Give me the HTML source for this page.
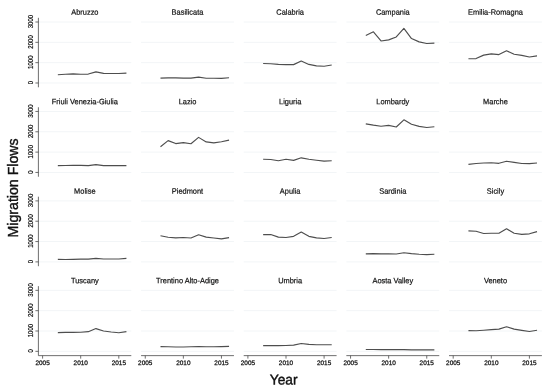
<!DOCTYPE html>
<html><head><meta charset="utf-8"><title>Migration Flows</title>
<style>html,body{margin:0;padding:0;background:#fff}svg{display:block;filter:blur(0.35px)}</style></head>
<body>
<svg width="550" height="391" viewBox="0 0 550 391" font-family="'Liberation Sans', Arial, sans-serif" fill="#111">
<rect width="550" height="391" fill="#fff"/>
<line x1="38.40" y1="82.99" x2="131.30" y2="82.99" stroke="#f2f5f7" stroke-width="1"/>
<line x1="38.40" y1="62.66" x2="131.30" y2="62.66" stroke="#f2f5f7" stroke-width="1"/>
<line x1="38.40" y1="42.33" x2="131.30" y2="42.33" stroke="#f2f5f7" stroke-width="1"/>
<line x1="38.40" y1="22.00" x2="131.30" y2="22.00" stroke="#f2f5f7" stroke-width="1"/>
<text transform="translate(84.85 14.85) rotate(0.05) scale(0.95 1)" font-size="7.83" text-anchor="middle" stroke="#111" stroke-width="0.2">Abruzzo</text>
<polyline points="57.84,74.80 65.46,74.25 73.08,73.88 80.70,74.25 88.32,74.07 95.94,71.89 103.56,73.35 111.18,73.54 118.80,73.54 126.42,73.17" fill="none" stroke="#4e4e4e" stroke-width="1.15" stroke-linejoin="round"/>
<line x1="38.40" y1="17.80" x2="38.40" y2="87.29" stroke="#4a4a4a" stroke-width="0.8"/>
<line x1="35.40" y1="82.99" x2="38.40" y2="82.99" stroke="#4a4a4a" stroke-width="0.8"/>
<text transform="translate(33.0 82.54) rotate(-90) scale(0.95 1)" font-size="6.4" text-anchor="middle" stroke="#111" stroke-width="0.2">0</text>
<line x1="35.40" y1="62.66" x2="38.40" y2="62.66" stroke="#4a4a4a" stroke-width="0.8"/>
<text transform="translate(33.0 62.21) rotate(-90) scale(0.95 1)" font-size="6.4" text-anchor="middle" stroke="#111" stroke-width="0.2">1000</text>
<line x1="35.40" y1="42.33" x2="38.40" y2="42.33" stroke="#4a4a4a" stroke-width="0.8"/>
<text transform="translate(33.0 41.88) rotate(-90) scale(0.95 1)" font-size="6.4" text-anchor="middle" stroke="#111" stroke-width="0.2">2000</text>
<line x1="35.40" y1="22.00" x2="38.40" y2="22.00" stroke="#4a4a4a" stroke-width="0.8"/>
<text transform="translate(33.0 21.55) rotate(-90) scale(0.95 1)" font-size="6.4" text-anchor="middle" stroke="#111" stroke-width="0.2">3000</text>
<line x1="141.05" y1="82.99" x2="233.95" y2="82.99" stroke="#f2f5f7" stroke-width="1"/>
<line x1="141.05" y1="62.66" x2="233.95" y2="62.66" stroke="#f2f5f7" stroke-width="1"/>
<line x1="141.05" y1="42.33" x2="233.95" y2="42.33" stroke="#f2f5f7" stroke-width="1"/>
<line x1="141.05" y1="22.00" x2="233.95" y2="22.00" stroke="#f2f5f7" stroke-width="1"/>
<text transform="translate(187.50 14.85) rotate(0.05) scale(0.95 1)" font-size="7.83" text-anchor="middle" stroke="#111" stroke-width="0.2">Basilicata</text>
<polyline points="160.49,78.07 168.11,77.89 175.73,77.89 183.35,78.07 190.97,78.07 198.59,77.18 206.21,78.25 213.83,78.25 221.45,78.44 229.07,77.70" fill="none" stroke="#4e4e4e" stroke-width="1.15" stroke-linejoin="round"/>
<line x1="243.70" y1="82.99" x2="336.60" y2="82.99" stroke="#f2f5f7" stroke-width="1"/>
<line x1="243.70" y1="62.66" x2="336.60" y2="62.66" stroke="#f2f5f7" stroke-width="1"/>
<line x1="243.70" y1="42.33" x2="336.60" y2="42.33" stroke="#f2f5f7" stroke-width="1"/>
<line x1="243.70" y1="22.00" x2="336.60" y2="22.00" stroke="#f2f5f7" stroke-width="1"/>
<text transform="translate(290.15 14.85) rotate(0.05) scale(0.95 1)" font-size="7.83" text-anchor="middle" stroke="#111" stroke-width="0.2">Calabria</text>
<polyline points="263.14,63.51 270.76,63.70 278.38,64.43 286.00,64.61 293.62,64.61 301.24,60.97 308.86,64.43 316.48,65.87 324.10,66.24 331.72,64.98" fill="none" stroke="#4e4e4e" stroke-width="1.15" stroke-linejoin="round"/>
<line x1="346.35" y1="82.99" x2="439.25" y2="82.99" stroke="#f2f5f7" stroke-width="1"/>
<line x1="346.35" y1="62.66" x2="439.25" y2="62.66" stroke="#f2f5f7" stroke-width="1"/>
<line x1="346.35" y1="42.33" x2="439.25" y2="42.33" stroke="#f2f5f7" stroke-width="1"/>
<line x1="346.35" y1="22.00" x2="439.25" y2="22.00" stroke="#f2f5f7" stroke-width="1"/>
<text transform="translate(392.80 14.85) rotate(0.05) scale(0.95 1)" font-size="7.83" text-anchor="middle" stroke="#111" stroke-width="0.2">Campania</text>
<polyline points="365.79,35.48 373.41,31.84 381.03,40.95 388.65,39.85 396.27,36.94 403.89,28.38 411.51,38.59 419.13,41.86 426.75,43.49 434.37,43.12" fill="none" stroke="#4e4e4e" stroke-width="1.15" stroke-linejoin="round"/>
<line x1="449.00" y1="82.99" x2="541.90" y2="82.99" stroke="#f2f5f7" stroke-width="1"/>
<line x1="449.00" y1="62.66" x2="541.90" y2="62.66" stroke="#f2f5f7" stroke-width="1"/>
<line x1="449.00" y1="42.33" x2="541.90" y2="42.33" stroke="#f2f5f7" stroke-width="1"/>
<line x1="449.00" y1="22.00" x2="541.90" y2="22.00" stroke="#f2f5f7" stroke-width="1"/>
<text transform="translate(495.45 14.85) rotate(0.05) scale(0.95 1)" font-size="7.83" text-anchor="middle" stroke="#111" stroke-width="0.2">Emilia-Romagna</text>
<polyline points="468.44,58.78 476.06,58.59 483.68,55.14 491.30,53.88 498.92,54.59 506.54,50.77 514.16,54.24 521.78,55.32 529.40,56.97 537.02,55.87" fill="none" stroke="#4e4e4e" stroke-width="1.15" stroke-linejoin="round"/>
<line x1="38.40" y1="172.44" x2="131.30" y2="172.44" stroke="#f2f5f7" stroke-width="1"/>
<line x1="38.40" y1="152.11" x2="131.30" y2="152.11" stroke="#f2f5f7" stroke-width="1"/>
<line x1="38.40" y1="131.78" x2="131.30" y2="131.78" stroke="#f2f5f7" stroke-width="1"/>
<line x1="38.40" y1="111.45" x2="131.30" y2="111.45" stroke="#f2f5f7" stroke-width="1"/>
<text transform="translate(84.85 104.30) rotate(0.05) scale(0.95 1)" font-size="7.83" text-anchor="middle" stroke="#111" stroke-width="0.2">Friuli Venezia-Giulia</text>
<polyline points="57.84,165.69 65.46,165.51 73.08,165.32 80.70,165.32 88.32,165.69 95.94,164.59 103.56,165.69 111.18,165.51 118.80,165.69 126.42,165.69" fill="none" stroke="#4e4e4e" stroke-width="1.15" stroke-linejoin="round"/>
<line x1="38.40" y1="107.25" x2="38.40" y2="176.74" stroke="#4a4a4a" stroke-width="0.8"/>
<line x1="35.40" y1="172.44" x2="38.40" y2="172.44" stroke="#4a4a4a" stroke-width="0.8"/>
<text transform="translate(33.0 171.99) rotate(-90) scale(0.95 1)" font-size="6.4" text-anchor="middle" stroke="#111" stroke-width="0.2">0</text>
<line x1="35.40" y1="152.11" x2="38.40" y2="152.11" stroke="#4a4a4a" stroke-width="0.8"/>
<text transform="translate(33.0 151.66) rotate(-90) scale(0.95 1)" font-size="6.4" text-anchor="middle" stroke="#111" stroke-width="0.2">1000</text>
<line x1="35.40" y1="131.78" x2="38.40" y2="131.78" stroke="#4a4a4a" stroke-width="0.8"/>
<text transform="translate(33.0 131.33) rotate(-90) scale(0.95 1)" font-size="6.4" text-anchor="middle" stroke="#111" stroke-width="0.2">2000</text>
<line x1="35.40" y1="111.45" x2="38.40" y2="111.45" stroke="#4a4a4a" stroke-width="0.8"/>
<text transform="translate(33.0 111.00) rotate(-90) scale(0.95 1)" font-size="6.4" text-anchor="middle" stroke="#111" stroke-width="0.2">3000</text>
<line x1="141.05" y1="172.44" x2="233.95" y2="172.44" stroke="#f2f5f7" stroke-width="1"/>
<line x1="141.05" y1="152.11" x2="233.95" y2="152.11" stroke="#f2f5f7" stroke-width="1"/>
<line x1="141.05" y1="131.78" x2="233.95" y2="131.78" stroke="#f2f5f7" stroke-width="1"/>
<line x1="141.05" y1="111.45" x2="233.95" y2="111.45" stroke="#f2f5f7" stroke-width="1"/>
<text transform="translate(187.50 104.30) rotate(0.05) scale(0.95 1)" font-size="7.83" text-anchor="middle" stroke="#111" stroke-width="0.2">Lazio</text>
<polyline points="160.49,146.68 168.11,140.66 175.73,143.57 183.35,142.66 190.97,143.75 198.59,137.37 206.21,141.94 213.83,142.84 221.45,141.76 229.07,140.12" fill="none" stroke="#4e4e4e" stroke-width="1.15" stroke-linejoin="round"/>
<line x1="243.70" y1="172.44" x2="336.60" y2="172.44" stroke="#f2f5f7" stroke-width="1"/>
<line x1="243.70" y1="152.11" x2="336.60" y2="152.11" stroke="#f2f5f7" stroke-width="1"/>
<line x1="243.70" y1="131.78" x2="336.60" y2="131.78" stroke="#f2f5f7" stroke-width="1"/>
<line x1="243.70" y1="111.45" x2="336.60" y2="111.45" stroke="#f2f5f7" stroke-width="1"/>
<text transform="translate(290.15 104.30) rotate(0.05) scale(0.95 1)" font-size="7.83" text-anchor="middle" stroke="#111" stroke-width="0.2">Liguria</text>
<polyline points="263.14,159.29 270.76,159.47 278.38,160.75 286.00,159.29 293.62,160.38 301.24,157.82 308.86,159.29 316.48,160.20 324.10,161.12 331.72,160.75" fill="none" stroke="#4e4e4e" stroke-width="1.15" stroke-linejoin="round"/>
<line x1="346.35" y1="172.44" x2="439.25" y2="172.44" stroke="#f2f5f7" stroke-width="1"/>
<line x1="346.35" y1="152.11" x2="439.25" y2="152.11" stroke="#f2f5f7" stroke-width="1"/>
<line x1="346.35" y1="131.78" x2="439.25" y2="131.78" stroke="#f2f5f7" stroke-width="1"/>
<line x1="346.35" y1="111.45" x2="439.25" y2="111.45" stroke="#f2f5f7" stroke-width="1"/>
<text transform="translate(392.80 104.30) rotate(0.05) scale(0.95 1)" font-size="7.83" text-anchor="middle" stroke="#111" stroke-width="0.2">Lombardy</text>
<polyline points="365.79,123.85 373.41,125.13 381.03,126.23 388.65,125.32 396.27,126.96 403.89,119.83 411.51,124.22 419.13,126.41 426.75,127.51 434.37,126.78" fill="none" stroke="#4e4e4e" stroke-width="1.15" stroke-linejoin="round"/>
<line x1="449.00" y1="172.44" x2="541.90" y2="172.44" stroke="#f2f5f7" stroke-width="1"/>
<line x1="449.00" y1="152.11" x2="541.90" y2="152.11" stroke="#f2f5f7" stroke-width="1"/>
<line x1="449.00" y1="131.78" x2="541.90" y2="131.78" stroke="#f2f5f7" stroke-width="1"/>
<line x1="449.00" y1="111.45" x2="541.90" y2="111.45" stroke="#f2f5f7" stroke-width="1"/>
<text transform="translate(495.45 104.30) rotate(0.05) scale(0.95 1)" font-size="7.83" text-anchor="middle" stroke="#111" stroke-width="0.2">Marche</text>
<polyline points="468.44,164.41 476.06,163.49 483.68,162.95 491.30,162.76 498.92,163.31 506.54,161.30 514.16,162.40 521.78,163.49 529.40,163.68 537.02,162.95" fill="none" stroke="#4e4e4e" stroke-width="1.15" stroke-linejoin="round"/>
<line x1="38.40" y1="261.89" x2="131.30" y2="261.89" stroke="#f2f5f7" stroke-width="1"/>
<line x1="38.40" y1="241.56" x2="131.30" y2="241.56" stroke="#f2f5f7" stroke-width="1"/>
<line x1="38.40" y1="221.23" x2="131.30" y2="221.23" stroke="#f2f5f7" stroke-width="1"/>
<line x1="38.40" y1="200.90" x2="131.30" y2="200.90" stroke="#f2f5f7" stroke-width="1"/>
<text transform="translate(84.85 193.75) rotate(0.05) scale(0.95 1)" font-size="7.83" text-anchor="middle" stroke="#111" stroke-width="0.2">Molise</text>
<polyline points="57.84,259.33 65.46,259.51 73.08,259.33 80.70,259.15 88.32,259.15 95.94,258.43 103.56,258.98 111.18,258.98 118.80,258.98 126.42,258.43" fill="none" stroke="#4e4e4e" stroke-width="1.15" stroke-linejoin="round"/>
<line x1="38.40" y1="196.70" x2="38.40" y2="266.19" stroke="#4a4a4a" stroke-width="0.8"/>
<line x1="35.40" y1="261.89" x2="38.40" y2="261.89" stroke="#4a4a4a" stroke-width="0.8"/>
<text transform="translate(33.0 261.44) rotate(-90) scale(0.95 1)" font-size="6.4" text-anchor="middle" stroke="#111" stroke-width="0.2">0</text>
<line x1="35.40" y1="241.56" x2="38.40" y2="241.56" stroke="#4a4a4a" stroke-width="0.8"/>
<text transform="translate(33.0 241.11) rotate(-90) scale(0.95 1)" font-size="6.4" text-anchor="middle" stroke="#111" stroke-width="0.2">1000</text>
<line x1="35.40" y1="221.23" x2="38.40" y2="221.23" stroke="#4a4a4a" stroke-width="0.8"/>
<text transform="translate(33.0 220.78) rotate(-90) scale(0.95 1)" font-size="6.4" text-anchor="middle" stroke="#111" stroke-width="0.2">2000</text>
<line x1="35.40" y1="200.90" x2="38.40" y2="200.90" stroke="#4a4a4a" stroke-width="0.8"/>
<text transform="translate(33.0 200.45) rotate(-90) scale(0.95 1)" font-size="6.4" text-anchor="middle" stroke="#111" stroke-width="0.2">3000</text>
<line x1="141.05" y1="261.89" x2="233.95" y2="261.89" stroke="#f2f5f7" stroke-width="1"/>
<line x1="141.05" y1="241.56" x2="233.95" y2="241.56" stroke="#f2f5f7" stroke-width="1"/>
<line x1="141.05" y1="221.23" x2="233.95" y2="221.23" stroke="#f2f5f7" stroke-width="1"/>
<line x1="141.05" y1="200.90" x2="233.95" y2="200.90" stroke="#f2f5f7" stroke-width="1"/>
<text transform="translate(187.50 193.75) rotate(0.05) scale(0.95 1)" font-size="7.83" text-anchor="middle" stroke="#111" stroke-width="0.2">Piedmont</text>
<polyline points="160.49,235.81 168.11,237.27 175.73,237.82 183.35,237.45 190.97,238.00 198.59,234.73 206.21,237.09 213.83,238.00 221.45,238.92 229.07,237.64" fill="none" stroke="#4e4e4e" stroke-width="1.15" stroke-linejoin="round"/>
<line x1="243.70" y1="261.89" x2="336.60" y2="261.89" stroke="#f2f5f7" stroke-width="1"/>
<line x1="243.70" y1="241.56" x2="336.60" y2="241.56" stroke="#f2f5f7" stroke-width="1"/>
<line x1="243.70" y1="221.23" x2="336.60" y2="221.23" stroke="#f2f5f7" stroke-width="1"/>
<line x1="243.70" y1="200.90" x2="336.60" y2="200.90" stroke="#f2f5f7" stroke-width="1"/>
<text transform="translate(290.15 193.75) rotate(0.05) scale(0.95 1)" font-size="7.83" text-anchor="middle" stroke="#111" stroke-width="0.2">Apulia</text>
<polyline points="263.14,234.55 270.76,234.55 278.38,237.09 286.00,237.45 293.62,236.36 301.24,231.98 308.86,236.36 316.48,237.82 324.10,238.55 331.72,237.45" fill="none" stroke="#4e4e4e" stroke-width="1.15" stroke-linejoin="round"/>
<line x1="346.35" y1="261.89" x2="439.25" y2="261.89" stroke="#f2f5f7" stroke-width="1"/>
<line x1="346.35" y1="241.56" x2="439.25" y2="241.56" stroke="#f2f5f7" stroke-width="1"/>
<line x1="346.35" y1="221.23" x2="439.25" y2="221.23" stroke="#f2f5f7" stroke-width="1"/>
<line x1="346.35" y1="200.90" x2="439.25" y2="200.90" stroke="#f2f5f7" stroke-width="1"/>
<text transform="translate(392.80 193.75) rotate(0.05) scale(0.95 1)" font-size="7.83" text-anchor="middle" stroke="#111" stroke-width="0.2">Sardinia</text>
<polyline points="365.79,253.86 373.41,253.68 381.03,253.86 388.65,253.86 396.27,254.04 403.89,252.78 411.51,253.68 419.13,254.23 426.75,254.59 434.37,254.23" fill="none" stroke="#4e4e4e" stroke-width="1.15" stroke-linejoin="round"/>
<line x1="449.00" y1="261.89" x2="541.90" y2="261.89" stroke="#f2f5f7" stroke-width="1"/>
<line x1="449.00" y1="241.56" x2="541.90" y2="241.56" stroke="#f2f5f7" stroke-width="1"/>
<line x1="449.00" y1="221.23" x2="541.90" y2="221.23" stroke="#f2f5f7" stroke-width="1"/>
<line x1="449.00" y1="200.90" x2="541.90" y2="200.90" stroke="#f2f5f7" stroke-width="1"/>
<text transform="translate(495.45 193.75) rotate(0.05) scale(0.95 1)" font-size="7.83" text-anchor="middle" stroke="#111" stroke-width="0.2">Sicily</text>
<polyline points="468.44,230.89 476.06,231.25 483.68,233.45 491.30,233.27 498.92,233.27 506.54,228.71 514.16,233.27 521.78,234.36 529.40,233.81 537.02,231.62" fill="none" stroke="#4e4e4e" stroke-width="1.15" stroke-linejoin="round"/>
<line x1="38.40" y1="351.34" x2="131.30" y2="351.34" stroke="#f2f5f7" stroke-width="1"/>
<line x1="38.40" y1="331.01" x2="131.30" y2="331.01" stroke="#f2f5f7" stroke-width="1"/>
<line x1="38.40" y1="310.68" x2="131.30" y2="310.68" stroke="#f2f5f7" stroke-width="1"/>
<line x1="38.40" y1="290.35" x2="131.30" y2="290.35" stroke="#f2f5f7" stroke-width="1"/>
<text transform="translate(84.85 283.20) rotate(0.05) scale(0.95 1)" font-size="7.83" text-anchor="middle" stroke="#111" stroke-width="0.2">Tuscany</text>
<polyline points="57.84,332.60 65.46,332.41 73.08,332.41 80.70,332.23 88.32,331.68 95.94,328.59 103.56,330.95 111.18,332.05 118.80,332.78 126.42,331.68" fill="none" stroke="#4e4e4e" stroke-width="1.15" stroke-linejoin="round"/>
<line x1="38.40" y1="286.15" x2="38.40" y2="355.64" stroke="#4a4a4a" stroke-width="0.8"/>
<line x1="35.40" y1="351.34" x2="38.40" y2="351.34" stroke="#4a4a4a" stroke-width="0.8"/>
<text transform="translate(33.0 350.89) rotate(-90) scale(0.95 1)" font-size="6.4" text-anchor="middle" stroke="#111" stroke-width="0.2">0</text>
<line x1="35.40" y1="331.01" x2="38.40" y2="331.01" stroke="#4a4a4a" stroke-width="0.8"/>
<text transform="translate(33.0 330.56) rotate(-90) scale(0.95 1)" font-size="6.4" text-anchor="middle" stroke="#111" stroke-width="0.2">1000</text>
<line x1="35.40" y1="310.68" x2="38.40" y2="310.68" stroke="#4a4a4a" stroke-width="0.8"/>
<text transform="translate(33.0 310.23) rotate(-90) scale(0.95 1)" font-size="6.4" text-anchor="middle" stroke="#111" stroke-width="0.2">2000</text>
<line x1="35.40" y1="290.35" x2="38.40" y2="290.35" stroke="#4a4a4a" stroke-width="0.8"/>
<text transform="translate(33.0 289.90) rotate(-90) scale(0.95 1)" font-size="6.4" text-anchor="middle" stroke="#111" stroke-width="0.2">3000</text>
<line x1="38.40" y1="355.64" x2="131.30" y2="355.64" stroke="#4a4a4a" stroke-width="0.8"/>
<line x1="42.60" y1="355.64" x2="42.60" y2="358.64" stroke="#4a4a4a" stroke-width="0.8"/>
<text transform="translate(42.60 364.89) rotate(0.05) scale(0.99 1)" font-size="6.5" text-anchor="middle" stroke="#111" stroke-width="0.25">2005</text>
<line x1="80.70" y1="355.64" x2="80.70" y2="358.64" stroke="#4a4a4a" stroke-width="0.8"/>
<text transform="translate(80.70 364.89) rotate(0.05) scale(0.99 1)" font-size="6.5" text-anchor="middle" stroke="#111" stroke-width="0.25">2010</text>
<line x1="118.80" y1="355.64" x2="118.80" y2="358.64" stroke="#4a4a4a" stroke-width="0.8"/>
<text transform="translate(118.80 364.89) rotate(0.05) scale(0.99 1)" font-size="6.5" text-anchor="middle" stroke="#111" stroke-width="0.25">2015</text>
<line x1="141.05" y1="351.34" x2="233.95" y2="351.34" stroke="#f2f5f7" stroke-width="1"/>
<line x1="141.05" y1="331.01" x2="233.95" y2="331.01" stroke="#f2f5f7" stroke-width="1"/>
<line x1="141.05" y1="310.68" x2="233.95" y2="310.68" stroke="#f2f5f7" stroke-width="1"/>
<line x1="141.05" y1="290.35" x2="233.95" y2="290.35" stroke="#f2f5f7" stroke-width="1"/>
<text transform="translate(187.50 283.20) rotate(0.05) scale(0.95 1)" font-size="7.83" text-anchor="middle" stroke="#111" stroke-width="0.2">Trentino Alto-Adige</text>
<polyline points="160.49,346.60 168.11,346.79 175.73,346.97 183.35,346.97 190.97,346.79 198.59,346.60 206.21,346.79 213.83,346.79 221.45,346.60 229.07,346.42" fill="none" stroke="#4e4e4e" stroke-width="1.15" stroke-linejoin="round"/>
<line x1="141.05" y1="355.64" x2="233.95" y2="355.64" stroke="#4a4a4a" stroke-width="0.8"/>
<line x1="145.25" y1="355.64" x2="145.25" y2="358.64" stroke="#4a4a4a" stroke-width="0.8"/>
<text transform="translate(145.25 364.89) rotate(0.05) scale(0.99 1)" font-size="6.5" text-anchor="middle" stroke="#111" stroke-width="0.25">2005</text>
<line x1="183.35" y1="355.64" x2="183.35" y2="358.64" stroke="#4a4a4a" stroke-width="0.8"/>
<text transform="translate(183.35 364.89) rotate(0.05) scale(0.99 1)" font-size="6.5" text-anchor="middle" stroke="#111" stroke-width="0.25">2010</text>
<line x1="221.45" y1="355.64" x2="221.45" y2="358.64" stroke="#4a4a4a" stroke-width="0.8"/>
<text transform="translate(221.45 364.89) rotate(0.05) scale(0.99 1)" font-size="6.5" text-anchor="middle" stroke="#111" stroke-width="0.25">2015</text>
<line x1="243.70" y1="351.34" x2="336.60" y2="351.34" stroke="#f2f5f7" stroke-width="1"/>
<line x1="243.70" y1="331.01" x2="336.60" y2="331.01" stroke="#f2f5f7" stroke-width="1"/>
<line x1="243.70" y1="310.68" x2="336.60" y2="310.68" stroke="#f2f5f7" stroke-width="1"/>
<line x1="243.70" y1="290.35" x2="336.60" y2="290.35" stroke="#f2f5f7" stroke-width="1"/>
<text transform="translate(290.15 283.20) rotate(0.05) scale(0.95 1)" font-size="7.83" text-anchor="middle" stroke="#111" stroke-width="0.2">Umbria</text>
<polyline points="263.14,345.69 270.76,345.69 278.38,345.69 286.00,345.53 293.62,345.16 301.24,343.51 308.86,344.43 316.48,344.79 324.10,344.79 331.72,344.79" fill="none" stroke="#4e4e4e" stroke-width="1.15" stroke-linejoin="round"/>
<line x1="243.70" y1="355.64" x2="336.60" y2="355.64" stroke="#4a4a4a" stroke-width="0.8"/>
<line x1="247.90" y1="355.64" x2="247.90" y2="358.64" stroke="#4a4a4a" stroke-width="0.8"/>
<text transform="translate(247.90 364.89) rotate(0.05) scale(0.99 1)" font-size="6.5" text-anchor="middle" stroke="#111" stroke-width="0.25">2005</text>
<line x1="286.00" y1="355.64" x2="286.00" y2="358.64" stroke="#4a4a4a" stroke-width="0.8"/>
<text transform="translate(286.00 364.89) rotate(0.05) scale(0.99 1)" font-size="6.5" text-anchor="middle" stroke="#111" stroke-width="0.25">2010</text>
<line x1="324.10" y1="355.64" x2="324.10" y2="358.64" stroke="#4a4a4a" stroke-width="0.8"/>
<text transform="translate(324.10 364.89) rotate(0.05) scale(0.99 1)" font-size="6.5" text-anchor="middle" stroke="#111" stroke-width="0.25">2015</text>
<line x1="346.35" y1="351.34" x2="439.25" y2="351.34" stroke="#f2f5f7" stroke-width="1"/>
<line x1="346.35" y1="331.01" x2="439.25" y2="331.01" stroke="#f2f5f7" stroke-width="1"/>
<line x1="346.35" y1="310.68" x2="439.25" y2="310.68" stroke="#f2f5f7" stroke-width="1"/>
<line x1="346.35" y1="290.35" x2="439.25" y2="290.35" stroke="#f2f5f7" stroke-width="1"/>
<text transform="translate(392.80 283.20) rotate(0.05) scale(0.95 1)" font-size="7.83" text-anchor="middle" stroke="#111" stroke-width="0.2">Aosta Valley</text>
<polyline points="365.79,349.51 373.41,349.51 381.03,349.61 388.65,349.69 396.27,349.69 403.89,349.69 411.51,349.88 419.13,349.88 426.75,349.88 434.37,349.88" fill="none" stroke="#4e4e4e" stroke-width="1.15" stroke-linejoin="round"/>
<line x1="346.35" y1="355.64" x2="439.25" y2="355.64" stroke="#4a4a4a" stroke-width="0.8"/>
<line x1="350.55" y1="355.64" x2="350.55" y2="358.64" stroke="#4a4a4a" stroke-width="0.8"/>
<text transform="translate(350.55 364.89) rotate(0.05) scale(0.99 1)" font-size="6.5" text-anchor="middle" stroke="#111" stroke-width="0.25">2005</text>
<line x1="388.65" y1="355.64" x2="388.65" y2="358.64" stroke="#4a4a4a" stroke-width="0.8"/>
<text transform="translate(388.65 364.89) rotate(0.05) scale(0.99 1)" font-size="6.5" text-anchor="middle" stroke="#111" stroke-width="0.25">2010</text>
<line x1="426.75" y1="355.64" x2="426.75" y2="358.64" stroke="#4a4a4a" stroke-width="0.8"/>
<text transform="translate(426.75 364.89) rotate(0.05) scale(0.99 1)" font-size="6.5" text-anchor="middle" stroke="#111" stroke-width="0.25">2015</text>
<line x1="449.00" y1="351.34" x2="541.90" y2="351.34" stroke="#f2f5f7" stroke-width="1"/>
<line x1="449.00" y1="331.01" x2="541.90" y2="331.01" stroke="#f2f5f7" stroke-width="1"/>
<line x1="449.00" y1="310.68" x2="541.90" y2="310.68" stroke="#f2f5f7" stroke-width="1"/>
<line x1="449.00" y1="290.35" x2="541.90" y2="290.35" stroke="#f2f5f7" stroke-width="1"/>
<text transform="translate(495.45 283.20) rotate(0.05) scale(0.95 1)" font-size="7.83" text-anchor="middle" stroke="#111" stroke-width="0.2">Veneto</text>
<polyline points="468.44,330.58 476.06,330.77 483.68,330.24 491.30,329.69 498.92,329.14 506.54,326.76 514.16,329.14 521.78,330.40 529.40,331.50 537.02,330.24" fill="none" stroke="#4e4e4e" stroke-width="1.15" stroke-linejoin="round"/>
<line x1="449.00" y1="355.64" x2="541.90" y2="355.64" stroke="#4a4a4a" stroke-width="0.8"/>
<line x1="453.20" y1="355.64" x2="453.20" y2="358.64" stroke="#4a4a4a" stroke-width="0.8"/>
<text transform="translate(453.20 364.89) rotate(0.05) scale(0.99 1)" font-size="6.5" text-anchor="middle" stroke="#111" stroke-width="0.25">2005</text>
<line x1="491.30" y1="355.64" x2="491.30" y2="358.64" stroke="#4a4a4a" stroke-width="0.8"/>
<text transform="translate(491.30 364.89) rotate(0.05) scale(0.99 1)" font-size="6.5" text-anchor="middle" stroke="#111" stroke-width="0.25">2010</text>
<line x1="529.40" y1="355.64" x2="529.40" y2="358.64" stroke="#4a4a4a" stroke-width="0.8"/>
<text transform="translate(529.40 364.89) rotate(0.05) scale(0.99 1)" font-size="6.5" text-anchor="middle" stroke="#111" stroke-width="0.25">2015</text>
<text transform="translate(18.2 187.95) rotate(-90) scale(0.958 1)" font-size="14.8" text-anchor="middle" stroke="#111" stroke-width="0.4">Migration Flows</text>
<text transform="translate(283.7 384.4) rotate(0.05) scale(0.955 1)" font-size="14.4" text-anchor="middle" stroke="#111" stroke-width="0.4">Year</text>
</svg>
</body></html>
